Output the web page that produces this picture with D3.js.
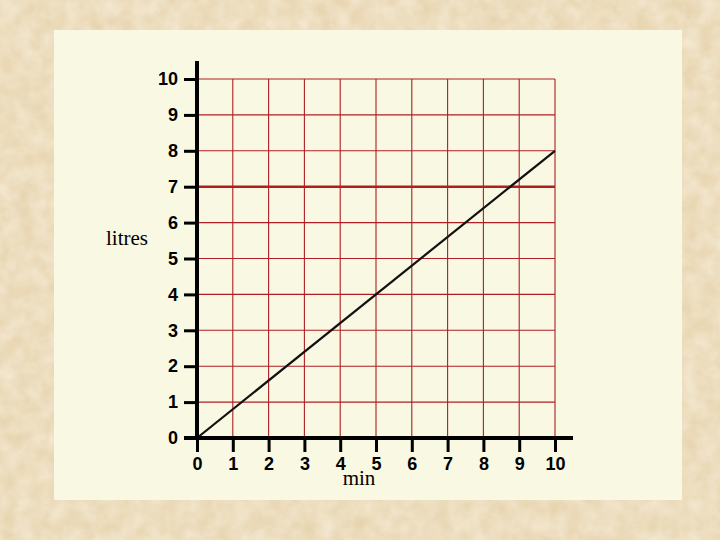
<!DOCTYPE html>
<html><head><meta charset="utf-8">
<script src="https://cdn.jsdelivr.net/npm/d3@7"></script>
<style>html,body{margin:0;padding:0;background:#e9d7b3;}svg{display:block;}</style>
</head><body>
<script>
const minutes = [0, 10];
const litres = [0, 8];
const xTickValues = [0,1,2,3,4,5,6,7,8,9,10];
const yTickValues = [0,1,2,3,4,5,6,7,8,9,10];
const highlightLevel = [7];
const xLabel = "min";
const yLabel = "litres";

const W = 720, H = 540;
const svg = d3.select("body").append("svg").attr("width", W).attr("height", H);

// parchment texture
const defs = svg.append("defs");
const f = defs.append("filter").attr("id","paper").attr("x",0).attr("y",0).attr("width","100%").attr("height","100%");
f.append("feTurbulence").attr("type","fractalNoise").attr("baseFrequency","0.06").attr("numOctaves",3).attr("seed",4).attr("result","n");
f.append("feColorMatrix").attr("in","n").attr("type","matrix")
  .attr("values","0 0 0 0 0.93  0 0 0 0 0.86  0 0 0 0 0.72  0 0 0 -1.1 1.05").attr("result","c");
f.append("feComposite").attr("in","c").attr("in2","SourceGraphic").attr("operator","in");
svg.append("rect").attr("width",W).attr("height",H).attr("fill","#e6d2ab");
svg.append("rect").attr("width",W).attr("height",H).attr("fill","#f0e2c4").attr("filter","url(#paper)").attr("opacity",0.8);

// panel
svg.append("rect").attr("x",54).attr("y",30).attr("width",628).attr("height",470).attr("fill","#f9f8e2");

const x = d3.scaleLinear().domain([0,10]).range([197,555]);
const y = d3.scaleLinear().domain([0,10]).range([438,79]);

// grid
const g = svg.append("g");
g.selectAll(".vg").data(xTickValues.filter(d=>d>0)).join("line")
  .attr("x1",d=>x(d)).attr("x2",d=>x(d)).attr("y1",y(10)).attr("y2",y(0))
  .attr("stroke","#ad1f24").attr("stroke-width",1.1);
g.selectAll(".hg").data(yTickValues.filter(d=>d>0)).join("line")
  .attr("x1",x(0)).attr("x2",x(10)).attr("y1",d=>y(d)).attr("y2",d=>y(d))
  .attr("stroke","#ad1f24").attr("stroke-width",1.1);
g.selectAll(".hl").data(highlightLevel).join("line")
  .attr("x1",x(0)).attr("x2",x(10)).attr("y1",d=>y(d)).attr("y2",d=>y(d))
  .attr("stroke","#b01e22").attr("stroke-width",2.6);

// data line
svg.append("path").datum(minutes.map((m,i)=>[m,litres[i]]))
  .attr("d", d3.line().x(d=>x(d[0])).y(d=>y(d[1])))
  .attr("stroke","#111").attr("stroke-width",2.2).attr("fill","none");

// axes
const xAxis = d3.axisBottom(x).tickValues(xTickValues).tickSize(14).tickPadding(5).tickFormat(d3.format("d"));
const yAxis = d3.axisLeft(y).tickValues(yTickValues).tickSize(13).tickPadding(6).tickFormat(d3.format("d"));

const gx = svg.append("g").attr("transform",`translate(0,${y(0)})`).call(xAxis);
gx.attr("font-size", null).attr("font-family", null);
gx.select(".domain").remove();
gx.selectAll(".tick line").attr("stroke","#000").attr("stroke-width",3);
gx.selectAll("text").attr("fill","#000").attr("font-family","Liberation Sans, Arial, sans-serif")
  .attr("font-weight","bold").attr("font-size","18px");

const gy = svg.append("g").attr("transform",`translate(${x(0)},0)`).call(yAxis);
gy.attr("font-size", null).attr("font-family", null);
gy.select(".domain").remove();
gy.selectAll(".tick line").attr("stroke","#000").attr("stroke-width",3);
gy.selectAll("text").attr("fill","#000").attr("font-family","Liberation Sans, Arial, sans-serif")
  .attr("font-weight","bold").attr("font-size","18px");

// axis lines
svg.append("line").attr("x1",x(0)).attr("x2",x(0)).attr("y1",61).attr("y2",y(0)+2)
  .attr("stroke","#000").attr("stroke-width",4);
svg.append("line").attr("x1",184).attr("x2",573).attr("y1",y(0)).attr("y2",y(0))
  .attr("stroke","#000").attr("stroke-width",4);

// axis titles
svg.append("text").attr("x",359).attr("y",485).attr("text-anchor","middle")
  .attr("font-family","Liberation Serif, Times New Roman, serif").attr("font-size","21px").attr("fill","#000").text(xLabel);
svg.append("text").attr("x",127).attr("y",245).attr("text-anchor","middle")
  .attr("font-family","Liberation Serif, Times New Roman, serif").attr("font-size","21px").attr("fill","#000").text(yLabel);
</script>
</body></html>
